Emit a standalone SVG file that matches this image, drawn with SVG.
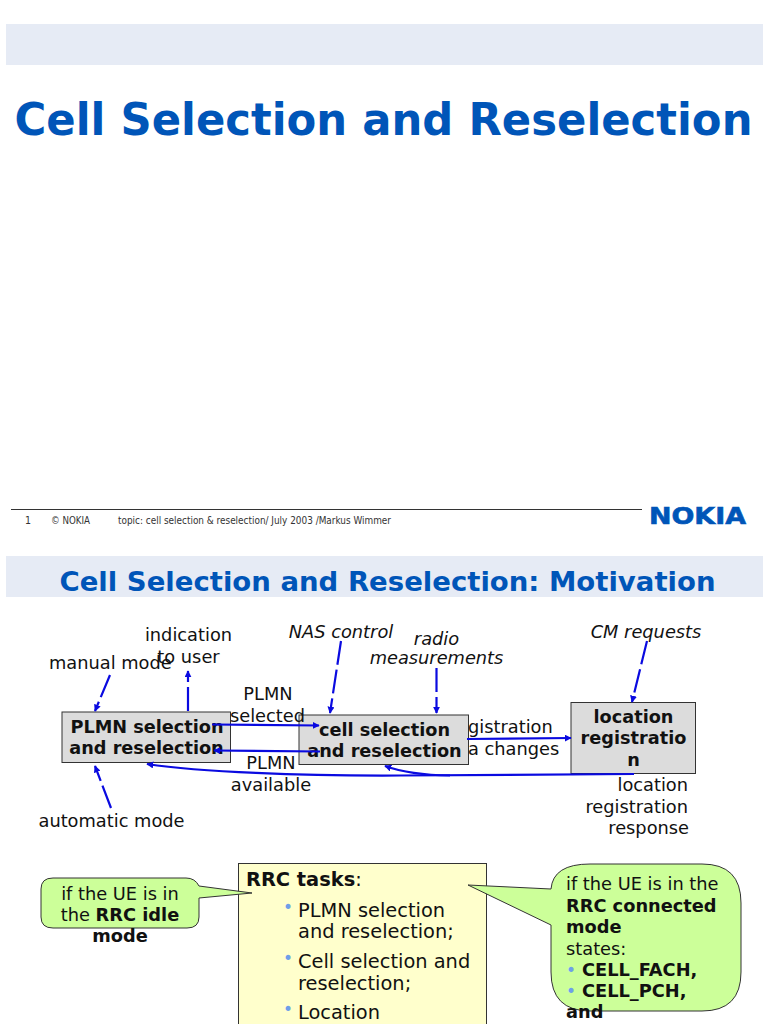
<svg xmlns="http://www.w3.org/2000/svg" width="768" height="1024" viewBox="0 0 768 1024">
<style>
text{font-family:"DejaVu Sans","Liberation Sans",sans-serif;fill:#111}
.t{font-size:17.8px}
.c{text-anchor:middle}
.r{text-anchor:end}
.i{font-style:italic}
.b{font-weight:bold}
.n{font-size:17.7px;font-weight:bold;text-anchor:middle}
.h{font-weight:bold;fill:#0055b8}
.f{font-family:"DejaVu Sans Condensed","DejaVu Sans",sans-serif;font-size:10.500px;fill:#333}
.box{fill:#dcdcdc;stroke:#333;stroke-width:1}
.ln{fill:none;stroke:#0a0ae0;stroke-width:2.200}
.d{stroke-dasharray:24 5}
.bub{fill:#ccff99;stroke:#333;stroke-width:1}
.bl{fill:#6f9fe8;font-size:17px}
.y{font-size:19.400px}
</style>
<defs>
<marker id="ab" viewBox="0 0 10 10" refX="9" refY="5" markerWidth="7" markerHeight="7" orient="auto" markerUnits="userSpaceOnUse"><path d="M0 0L10 5L0 10z" fill="#0a0ae0"/></marker>
</defs>
<rect x="6" y="24" width="757" height="41" fill="#e6ebf5"/>
<text class="h" x="383.500" y="135" font-size="44" text-anchor="middle" textLength="738" lengthAdjust="spacingAndGlyphs">Cell Selection and Reselection</text>
<line x1="11" y1="509.500" x2="642" y2="509.500" stroke="#333" stroke-width="1"/>
<text class="f" x="25" y="524">1</text>
<text class="f" x="51" y="524" textLength="39" lengthAdjust="spacingAndGlyphs">© NOKIA</text>
<text class="f" x="118" y="524" textLength="273" lengthAdjust="spacingAndGlyphs">topic: cell selection &amp; reselection/ July 2003 /Markus Wimmer</text>
<text x="649" y="524" font-size="22.500" font-weight="bold" style="fill:#0055b8;stroke:#0055b8;stroke-width:.6" textLength="97" lengthAdjust="spacingAndGlyphs">NOKIA</text>
<rect x="6" y="556" width="757" height="41" fill="#e6ebf5"/>
<text class="h" x="387.500" y="591" font-size="27" text-anchor="middle" textLength="656" lengthAdjust="spacingAndGlyphs">Cell Selection and Reselection: Motivation</text>

<g id="node-plmn"><rect class="box" x="62" y="712" width="168.500" height="50.500"/>
<text class="n" x="147" y="733">PLMN selection</text><text class="n" x="146.500" y="754">and reselection</text></g>
<g id="node-cell"><rect class="box" x="299" y="715" width="169.500" height="49.500"/>
<text class="n" x="384.500" y="736">cell selection</text><text class="n" x="384.500" y="757">and reselection</text></g>
<g id="node-loc"><rect class="box" x="571" y="702.500" width="124.500" height="71"/>
<text class="n" x="633.500" y="723">location</text><text class="n" x="633.500" y="744">registratio</text><text class="n" x="633.500" y="766">n</text></g>

<g id="labels">
<text class="t c" x="188.500" y="641">indication</text><text class="t c" x="188.500" y="663">to user</text>
<text class="t" x="49" y="669">manual mode</text>
<text class="t c" x="268" y="700">PLMN</text><text class="t c" x="267.500" y="722">selected</text>
<text class="t c" x="271" y="769">PLMN</text><text class="t c" x="271" y="791">available</text>
<text class="t c" x="111.500" y="827">automatic mode</text>
<text class="t i c" x="341" y="638">NAS control</text>
<text class="t i c" x="436.500" y="645">radio</text><text class="t i c" x="436.500" y="664">measurements</text>
<text class="t i c" x="646" y="638">CM requests</text>
<text class="t" x="468" y="733">gistration</text>
<text class="t" x="468" y="755">a changes</text>
<text class="t r" x="688" y="791">location</text><text class="t r" x="688" y="813">registration</text><text class="t r" x="689" y="834">response</text>
</g>

<g id="connectors">
<path class="ln d" d="M110 675L95 711" marker-end="url(#ab)"/>
<path class="ln d" d="M188 711V671" marker-end="url(#ab)"/>
<path class="ln d" d="M111 808L95 766" marker-end="url(#ab)"/>
<path class="ln d" d="M341 641L330 713" marker-end="url(#ab)"/>
<path class="ln d" d="M436.500 668V713" marker-end="url(#ab)"/>
<path class="ln d" d="M647 641L632 702" marker-end="url(#ab)"/>
<path class="ln" d="M212 724.500L319 725.500" marker-end="url(#ab)"/>
<path class="ln" d="M320 751.500L214 750.500" marker-end="url(#ab)"/>
<path class="ln" d="M467 739L571 738" marker-end="url(#ab)"/>
<path class="ln" d="M634 774L400 775.500C300 776 200 772 147 764" marker-end="url(#ab)"/>
<path class="ln" d="M450 775.500Q410 775 385 766" marker-end="url(#ab)"/>
</g>

<g id="node-rrc">
<rect x="238.500" y="863.500" width="248" height="170" fill="#ffffcc" stroke="#333" stroke-width="1"/>
<text class="y" x="246" y="886"><tspan class="b">RRC tasks</tspan>:</text>
<text class="bl" x="283" y="913">•</text>
<text class="y" x="298" y="917">PLMN selection</text><text class="y" x="298" y="938">and reselection;</text>
<text class="bl" x="283" y="964">•</text>
<text class="y" x="298" y="968">Cell selection and</text><text class="y" x="298" y="990">reselection;</text>
<text class="bl" x="283" y="1015">•</text>
<text class="y" x="298" y="1019">Location</text>
</g>
<g id="callout-idle">
<path class="bub" d="M53 878H186Q195 878 199 886L252 893L199 898V917Q199 928 187 928H53Q41 928 41 917V889Q41 878 53 878Z"/>
<text class="t c" x="120" y="900">if the UE is in</text>
<text class="t c" x="120" y="921">the <tspan class="b">RRC idle</tspan></text>
<text class="t c b" x="120" y="942">mode</text>
</g>
<g id="callout-connected">
<path class="bub" d="M590 864H702Q741 864 741 903V972Q741 1011 702 1011H590Q551 1011 551 972V925L468 885L551 889Q553 864 590 864Z"/>
<text class="t" x="566" y="890">if the UE is in the</text>
<text class="t b" x="566" y="912">RRC connected</text>
<text class="t b" x="566" y="933">mode</text>
<text class="t" x="566" y="955">states:</text>
<text class="bl" x="566" y="976">•</text><text class="t b" x="582" y="976">CELL_FACH,</text>
<text class="bl" x="566" y="997">•</text><text class="t b" x="582" y="997">CELL_PCH,</text>
<text class="t b" x="566" y="1018">and</text>
</g>
</svg>
